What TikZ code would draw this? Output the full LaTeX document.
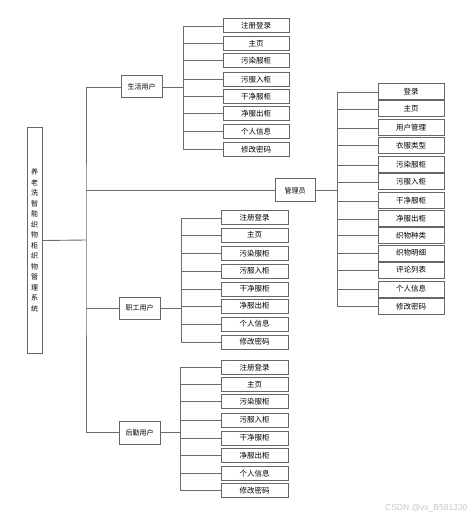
\documentclass[tikz,border=0pt]{standalone}
\usepackage{fontspec}
\setmainfont{Noto Sans CJK SC}
\newfontfamily\wmfont{Liberation Sans}
\begin{document}
\begin{tikzpicture}[x=1pt,y=-1pt,
  box/.style={draw=gray!80!black,line width=1pt,fill=white,inner sep=0pt,font=\fontsize{7.5}{9}\selectfont},
  leaf/.style={box,minimum width=66pt,minimum height=14pt},
  aleaf/.style={box,minimum width=66pt,minimum height=16pt},
  role/.style={box,minimum width=41pt,minimum height=22pt,font=\fontsize{7}{8}\selectfont},
  conn/.style={draw=gray!85!black,line width=0.9pt}]
\useasboundingbox (0,0) rectangle (474,518);
% title
\node[box,minimum width=15pt,minimum height=225pt,font=\fontsize{7}{10.5}\selectfont,align=center] (title) at (34.5,240.5)
 {养\\老\\洗\\智\\能\\织\\物\\柜\\织\\物\\管\\理\\系\\统};
% roles
\node[role] (r1) at (141.5,87) {生活用户};
\node[role,minimum width=40pt,minimum height=23pt] (r2) at (295,190.5) {管理员};
\node[role] (r3) at (139.5,308) {职工用户};
\node[role,minimum height=23pt] (r4) at (139.5,432.5) {后勤用户};
% trunk
\coordinate (tr) at (86,240);
\draw[conn] (title.east) -- (tr);
\draw[conn] (r1.west) -| (tr) |- (r4.west);
\draw[conn] (r2.west) -- (r2.west -| tr);
\draw[conn] (r3.west) -- (r3.west -| tr);
% group 1
\coordinate (b1) at (183,88);
\foreach \i/\y/\t in {1/26/注册登录,2/43.5/主页,3/60.5/污染服柜,4/79.5/污服入柜,5/96.5/干净服柜,6/113.5/净服出柜,7/131.5/个人信息,8/149.5/修改密码}{
  \node[leaf] (a\i) at (256,\y) {\t};
  \draw[conn] (a\i.west) -- (a\i.west -| b1);
}
\draw[conn] (a1.west -| b1) -- (a8.west -| b1);
\draw[conn] (r1.east) -- (r1.east -| b1);
% group 2 (admin)
\coordinate (b2) at (337,190);
\foreach \i/\y/\t in {1/92/登录,2/109/主页,3/128/用户管理,4/145.5/衣服类型,5/165/污染服柜,6/182/污服入柜,7/201/干净服柜,8/219/净服出柜,9/235.5/织物种类,10/253/织物明细,11/270/评论列表,12/289/个人信息,13/306.5/修改密码}{
  \node[aleaf] (m\i) at (411,\y) {\t};
  \draw[conn] (m\i.west) -- (m\i.west -| b2);
}
\draw[conn] (m1.west -| b2) -- (m13.west -| b2);
\draw[conn] (r2.east) -- (r2.east -| b2);
% group 3
\coordinate (b3) at (181,308);
\foreach \i/\y/\t in {1/218/注册登录,2/235/主页,3/253.5/污染服柜,4/271/污服入柜,5/289/干净服柜,6/306/净服出柜,7/324/个人信息,8/342/修改密码}{
  \node[leaf,minimum width=67pt] (c\i) at (254.5,\y) {\t};
  \draw[conn] (c\i.west) -- (c\i.west -| b3);
}
\draw[conn] (c1.west -| b3) -- (c8.west -| b3);
\draw[conn] (r3.east) -- (r3.east -| b3);
% group 4
\coordinate (b4) at (180,432);
\foreach \i/\y/\t in {1/367.5/注册登录,2/384.5/主页,3/401.5/污染服柜,4/420/污服入柜,5/438/干净服柜,6/455.5/净服出柜,7/473.5/个人信息,8/490.5/修改密码}{
  \node[leaf,minimum width=67pt] (d\i) at (254.5,\y) {\t};
  \draw[conn] (d\i.west) -- (d\i.west -| b4);
}
\draw[conn] (d1.west -| b4) -- (d8.west -| b4);
\draw[conn] (r4.east) -- (r4.east -| b4);
% watermark
\node[text=gray!45,font=\wmfont\fontsize{8.5}{10}\selectfont,anchor=east] (wm) at (471,508) {CSDN @vx\_B581330};
\end{tikzpicture}
\end{document}
